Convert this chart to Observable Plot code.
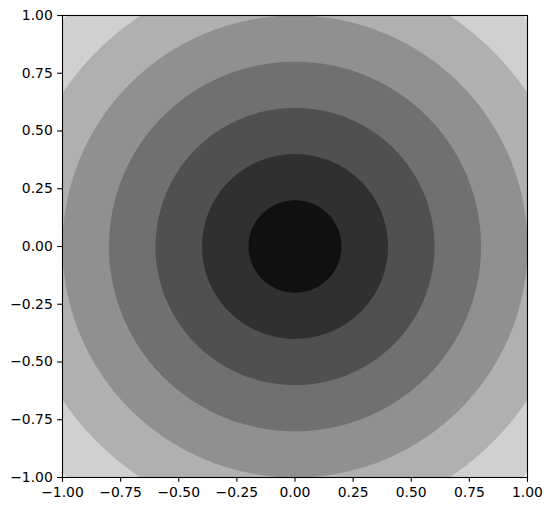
<!DOCTYPE html>
<html>
<head>
<meta charset="utf-8">
<script src="https://cdn.jsdelivr.net/npm/d3@7"></script>
<script src="https://cdn.jsdelivr.net/npm/@observablehq/plot@0.6"></script>
<style>
  html, body { margin: 0; padding: 0; background: white; }
</style>
</head>
<body>
<div id="chart"></div>
<script>
// Contour levels (radius r = sqrt(x^2 + y^2)) and their fill grays
const levels = [0, 0.2, 0.4, 0.6, 0.8, 1.0, 1.2, 1.4];
const grays = ["#101010", "#303030", "#505050", "#707070", "#909090", "#b0b0b0", "#d0d0d0", "#f0f0f0"];
const xTicks = [-1, -0.75, -0.5, -0.25, 0, 0.25, 0.5, 0.75, 1];
const yTicks = [-1, -0.75, -0.5, -0.25, 0, 0.25, 0.5, 0.75, 1];
const field = (x, y) => Math.hypot(x, y);

const fmt = d3.format(".2f");

const chart = Plot.plot({
  width: 552,
  height: 511,
  marginLeft: 62,
  marginRight: 25,
  marginTop: 15,
  marginBottom: 34,
  style: { fontFamily: "DejaVu Sans", fontSize: "13.9px", color: "black", background: "white" },
  x: { domain: [-1, 1] },
  y: { domain: [-1, 1] },
  color: { type: "ordinal", domain: levels, range: grays },
  marks: [
    Plot.contour({
      fill: field,
      x1: -1, x2: 1, y1: -1, y2: 1,
      thresholds: levels,
      pixelSize: 1,
      stroke: "none"
    }),
    Plot.frame({ stroke: "black", strokeWidth: 1.1 }),
    Plot.axisX({ ticks: xTicks, tickFormat: fmt, tickSize: 4.86, tickPadding: 4.86, fontSize: 13.9, strokeWidth: 1.1, label: null }),
    Plot.axisY({ ticks: yTicks, tickFormat: fmt, tickSize: 4.86, tickPadding: 4.86, fontSize: 13.9, strokeWidth: 1.1, label: null })
  ]
});
document.getElementById("chart").appendChild(chart);
</script>
</body>
</html>
